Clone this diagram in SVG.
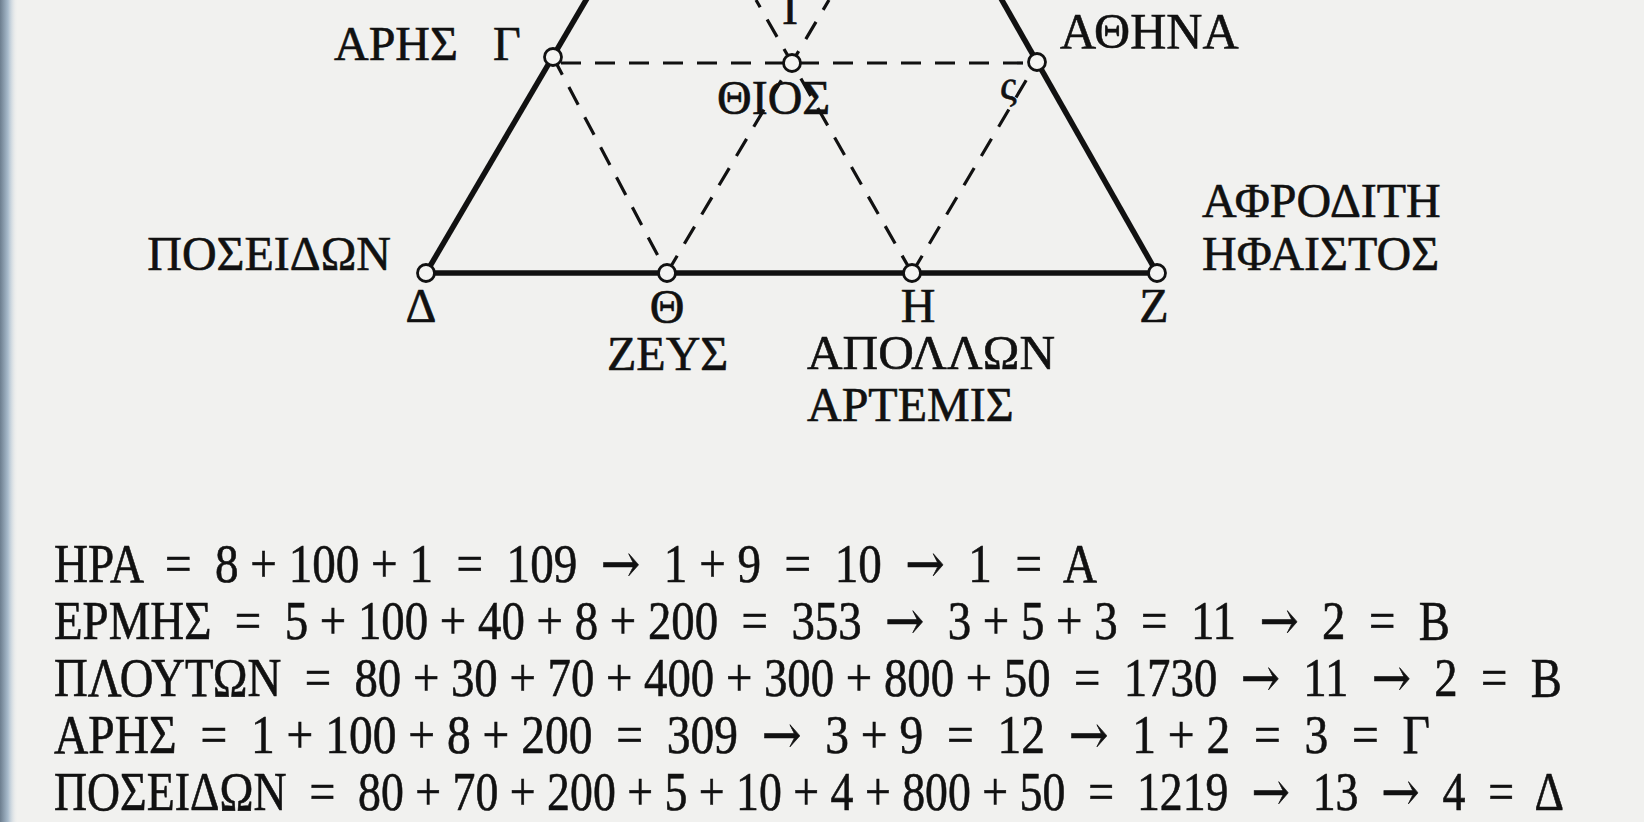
<svg xmlns="http://www.w3.org/2000/svg" width="1644" height="822" viewBox="0 0 1644 822">
  <style>
    .lbl { font-family: "Liberation Serif", "Times New Roman", serif; font-size: 48px; fill: #111; stroke: #111; stroke-width: 0.6px; }
    .eq { font-family: "Liberation Serif", "Times New Roman", serif; font-size: 54px; fill: #111; stroke: #111; stroke-width: 0.6px; }
    .arr { font-family: "DejaVu Serif", "Liberation Serif", serif; }
    .solid { stroke: #111; stroke-width: 5.5; fill: none; stroke-linecap: butt; }
    .dash { stroke: #111; stroke-width: 3.2; fill: none; stroke-dasharray: 20 14; }
    .node { fill: #f4f4f2; stroke: #111; stroke-width: 2.8; }
  </style>
  <defs>
    <linearGradient id="edge" x1="0" y1="0" x2="1" y2="0">
      <stop offset="0" stop-color="#6c7d8e"/>
      <stop offset="0.45" stop-color="#a9bccd"/>
      <stop offset="1" stop-color="#f1f1ef" stop-opacity="0"/>
    </linearGradient>
  </defs>
  <rect x="0" y="0" width="1644" height="822" fill="#f1f1ef"/>
  <rect x="0" y="0" width="18" height="822" fill="url(#edge)"/>

  <g id="connectors">
    <line class="solid" x1="426" y1="273" x2="589" y2="-5"/>
    <line class="solid" x1="426" y1="273" x2="1157" y2="273"/>
    <line class="solid" x1="1157" y1="273" x2="999" y2="-5"/>
    <line class="dash" x1="561" y1="63" x2="1030" y2="63"/>
    <line class="dash" x1="553" y1="57" x2="667" y2="273"/>
    <line class="dash" x1="667" y1="273" x2="829" y2="0"/>
    <line class="dash" x1="912" y1="273" x2="756" y2="0"/>
    <line class="dash" x1="912" y1="273" x2="1037" y2="62"/>
  </g>

  <g id="node-top-iota">
    <text class="lbl" x="790" y="24" text-anchor="middle">Ι</text>
  </g>
  <g id="node-gamma">
    <circle class="node" cx="553" cy="57" r="8.5"/>
    <text class="lbl" x="334" y="60">ΑΡΗΣ</text>
    <text class="lbl" x="493" y="60">Γ</text>
  </g>
  <g id="node-theios">
    <circle class="node" cx="792" cy="63" r="8.5"/>
    <text class="lbl" x="717" y="114">ΘΙΟΣ</text>
  </g>
  <g id="node-athena">
    <circle class="node" cx="1037" cy="62" r="8.5"/>
    <text class="lbl" x="1060" y="48" style="font-size:50px">ΑΘΗΝΑ</text>
    <text class="lbl" x="1000" y="99" style="font-size:42px">ς</text>
  </g>
  <g id="node-delta">
    <circle class="node" cx="426" cy="273" r="8.5"/>
    <text class="lbl" x="391" y="270" text-anchor="end">ΠΟΣΕΙΔΩΝ</text>
    <text class="lbl" x="421" y="322" text-anchor="middle">Δ</text>
  </g>
  <g id="node-theta">
    <circle class="node" cx="667" cy="273" r="8.5"/>
    <text class="lbl" x="667" y="323" text-anchor="middle">Θ</text>
    <text class="lbl" x="607" y="370">ΖΕΥΣ</text>
  </g>
  <g id="node-eta">
    <circle class="node" cx="912" cy="273" r="8.5"/>
    <text class="lbl" x="918" y="322" text-anchor="middle">Η</text>
    <text class="lbl" x="807" y="369" textLength="248" lengthAdjust="spacingAndGlyphs">ΑΠΟΛΛΩΝ</text>
    <text class="lbl" x="807" y="421">ΑΡΤΕΜΙΣ</text>
  </g>
  <g id="node-zeta">
    <circle class="node" cx="1157" cy="273" r="8.5"/>
    <text class="lbl" x="1154" y="322" text-anchor="middle">Ζ</text>
    <text class="lbl" x="1202" y="217">ΑΦΡΟΔΙΤΗ</text>
    <text class="lbl" x="1202" y="270">ΗΦΑΙΣΤΟΣ</text>
  </g>

  <g id="equations">
    <text class="eq" xml:space="preserve" x="54" y="582" textLength="1043" lengthAdjust="spacingAndGlyphs">ΗΡΑ  =  8 + 100 + 1  =  109  <tspan class="arr">→</tspan>  1 + 9  =  10  <tspan class="arr">→</tspan>  1  =  Α</text>
    <text class="eq" xml:space="preserve" x="54" y="639" textLength="1396" lengthAdjust="spacingAndGlyphs">ΕΡΜΗΣ  =  5 + 100 + 40 + 8 + 200  =  353  <tspan class="arr">→</tspan>  3 + 5 + 3  =  11  <tspan class="arr">→</tspan>  2  =  Β</text>
    <text class="eq" xml:space="preserve" x="54" y="696" textLength="1508" lengthAdjust="spacingAndGlyphs">ΠΛΟΥΤΩΝ  =  80 + 30 + 70 + 400 + 300 + 800 + 50  =  1730  <tspan class="arr">→</tspan>  11  <tspan class="arr">→</tspan>  2  =  Β</text>
    <text class="eq" xml:space="preserve" x="54" y="753" textLength="1376" lengthAdjust="spacingAndGlyphs">ΑΡΗΣ  =  1 + 100 + 8 + 200  =  309  <tspan class="arr">→</tspan>  3 + 9  =  12  <tspan class="arr">→</tspan>  1 + 2  =  3  =  Γ</text>
    <text class="eq" xml:space="preserve" x="54" y="810" textLength="1510" lengthAdjust="spacingAndGlyphs">ΠΟΣΕΙΔΩΝ  =  80 + 70 + 200 + 5 + 10 + 4 + 800 + 50  =  1219  <tspan class="arr">→</tspan>  13  <tspan class="arr">→</tspan>  4  =  Δ</text>
  </g>
</svg>
